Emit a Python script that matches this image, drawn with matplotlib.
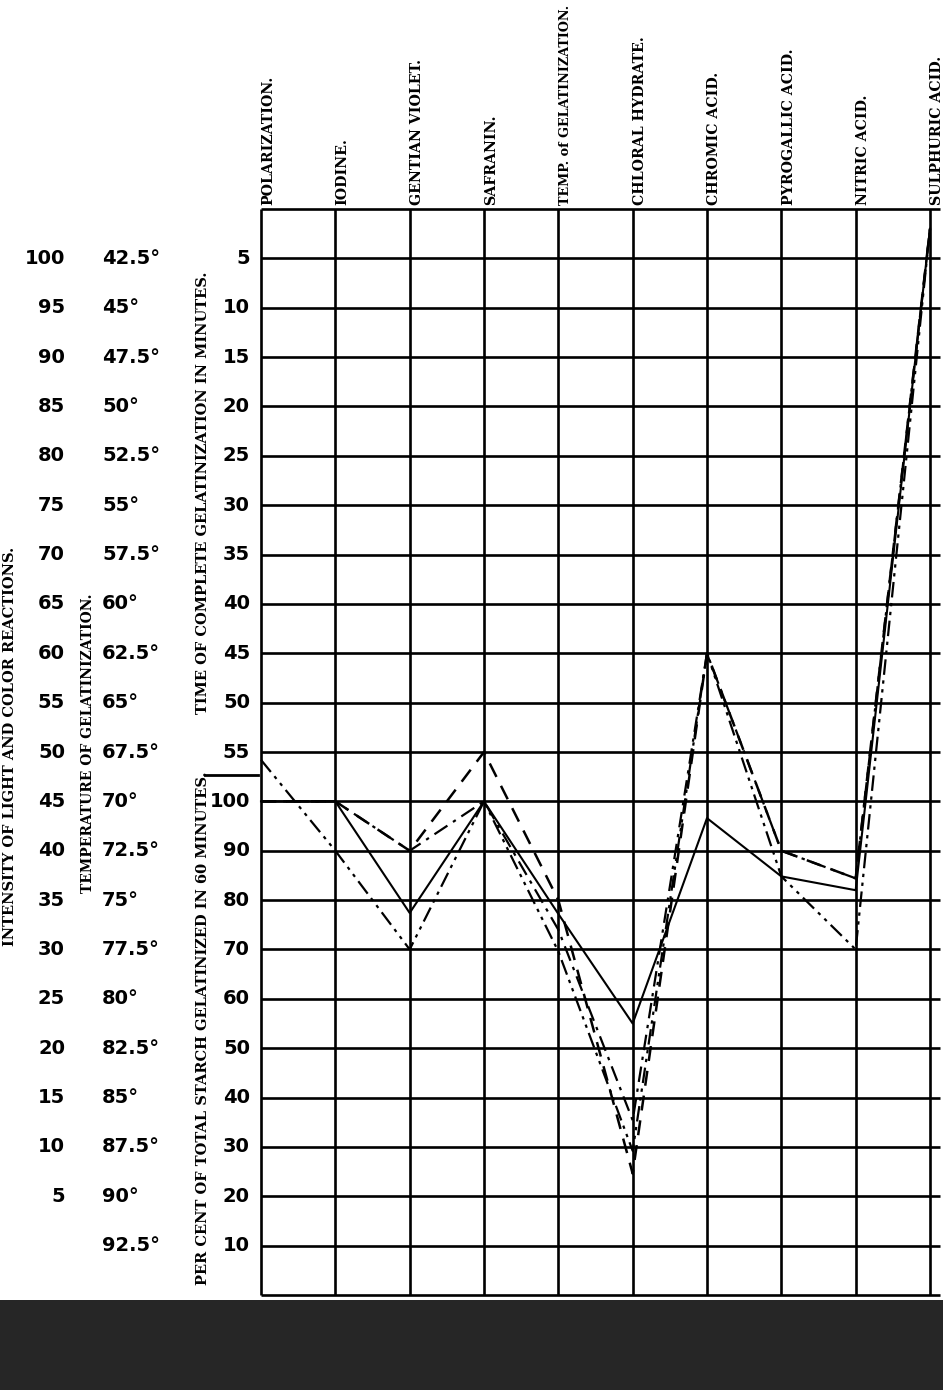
import matplotlib
matplotlib.use("Agg")
import matplotlib.pyplot as plt
from matplotlib.transforms import blended_transform_factory
from matplotlib.patches import Rectangle

# column headings (reagents / tests)
columns = ['POLARIZATION.', 'IODINE.', 'GENTIAN VIOLET.', 'SAFRANIN.',
           'TEMP. of GELATINIZATION.', 'CHLORAL HYDRATE.', 'CHROMIC ACID.',
           'PYROGALLIC ACID.', 'NITRIC ACID.', 'SULPHURIC ACID.']

# left hand scales, top to bottom
intensity = ['100', '95', '90', '85', '80', '75', '70', '65', '60', '55', '50',
             '45', '40', '35', '30', '25', '20', '15', '10', '5']
temperature = ['42.5°', '45°', '47.5°', '50°', '52.5°', '55°', '57.5°', '60°',
               '62.5°', '65°', '67.5°', '70°', '72.5°', '75°', '77.5°', '80°',
               '82.5°', '85°', '87.5°', '90°', '92.5°']
minutes = ['5', '10', '15', '20', '25', '30', '35', '40', '45', '50', '55']
percent = ['100', '90', '80', '70', '60', '50', '40', '30', '20', '10']

# curves, read on the intensity scale (0-100)
solid = [45, 45, 33.7, 45, 33.6, 22.5, 43.3, 37.4, 36, 103]
dashed = [45, 45, 40, 50, 35, 7.3, 60, 40, 37.2, 103]
dash_dot_dot = [49.2, 40, 30, 45, 29.8, 9.6, 60, 37.4, 30, 103]
dash_dot = [45, 45, 40, 45, 32, 12.7, 60, 40, 37.2, 103]

W, H = 943, 1390
fig = plt.figure(figsize=(W / 100, H / 100), dpi=100)
fig.patch.set_facecolor('white')

left, right, top, bottom = 261, 940, 209, 1295
ax = fig.add_axes([left / W, 1 - bottom / H, (right - left) / W, (bottom - top) / H])
ncol = len(columns)
xmax = (ncol - 1) + (right - 930) / 74.3
ax.set_xlim(0, xmax)
ax.set_ylim(-5, 105)
ax.axis('off')

# grid
lw_grid = 1.9
for k in range(23):
    ax.plot([0, xmax], [-5 + 5 * k] * 2, color='black', lw=lw_grid,
            solid_capstyle='butt', clip_on=False)
for i in range(ncol):
    ax.plot([i, i], [-5, 105], color='black', lw=lw_grid,
            solid_capstyle='butt', clip_on=False)

# curves
xs = list(range(ncol))
ax.plot(xs, solid, color='black', lw=1.5, ls='-', clip_on=False)
ax.plot(xs, dashed, color='black', lw=1.8, ls=(0, (6, 4)), clip_on=False)
ax.plot(xs, dash_dot_dot, color='black', lw=1.6,
        ls=(0, (7, 2.5, 1.5, 2.5, 1.5, 2.5)), clip_on=False)
ax.plot(xs, dash_dot, color='black', lw=1.6, ls=(0, (7, 3, 1.5, 3)), clip_on=False)

# column headings
serif = dict(family='DejaVu Serif', weight='bold', color='black')
for i, name in enumerate(columns):
    size = 9.2 if name.startswith('TEMP') else 10.2
    ax.text(i + 0.1, 105.4, name, rotation=90, ha='center', va='bottom',
            fontsize=size, clip_on=False, **serif)

# number scales on the left
tr = blended_transform_factory(fig.transFigure, ax.transData)
num = dict(family='DejaVu Sans', weight='bold', fontsize=14, color='black', va='center')
for k, lab in enumerate(intensity):
    ax.text(65 / W, 100 - 5 * k, lab, transform=tr, ha='right', **num)
for k, lab in enumerate(temperature):
    ax.text(102 / W, 100 - 5 * k, lab, transform=tr, ha='left', **num)
for k, lab in enumerate(minutes):
    ax.text(250 / W, 100 - 5 * k, lab, transform=tr, ha='right', **num)
for k, lab in enumerate(percent):
    ax.text(250 / W, 45 - 5 * k, lab, transform=tr, ha='right', **num)

# short rule between the two right-hand scales
ax.plot([205 / W, 258 / W], [47.7, 47.7], transform=tr, color='black', lw=2,
        clip_on=False)

# scale titles
fig.text(10 / W, 1 - 746 / H, 'INTENSITY OF LIGHT AND COLOR REACTIONS.', rotation=90,
         ha='center', va='center', fontsize=10.5, **serif)
fig.text(88 / W, 1 - 743 / H, 'TEMPERATURE OF GELATINIZATION.', rotation=90,
         ha='center', va='center', fontsize=10, **serif)
fig.text(203 / W, 1 - 493 / H, 'TIME OF COMPLETE GELATINIZATION IN MINUTES.', rotation=90,
         ha='center', va='center', fontsize=10.5, **serif)
fig.text(203 / W, 1 - 1028 / H, 'PER CENT OF TOTAL STARCH GELATINIZED IN 60 MINUTES.',
         rotation=90, ha='center', va='center', fontsize=10.5, **serif)

# dark band at the bottom
fig.patches.append(Rectangle((0, 0), 1, 90 / H, transform=fig.transFigure,
                             facecolor='#262626', edgecolor='none'))

fig.savefig('out.png', dpi=100)
